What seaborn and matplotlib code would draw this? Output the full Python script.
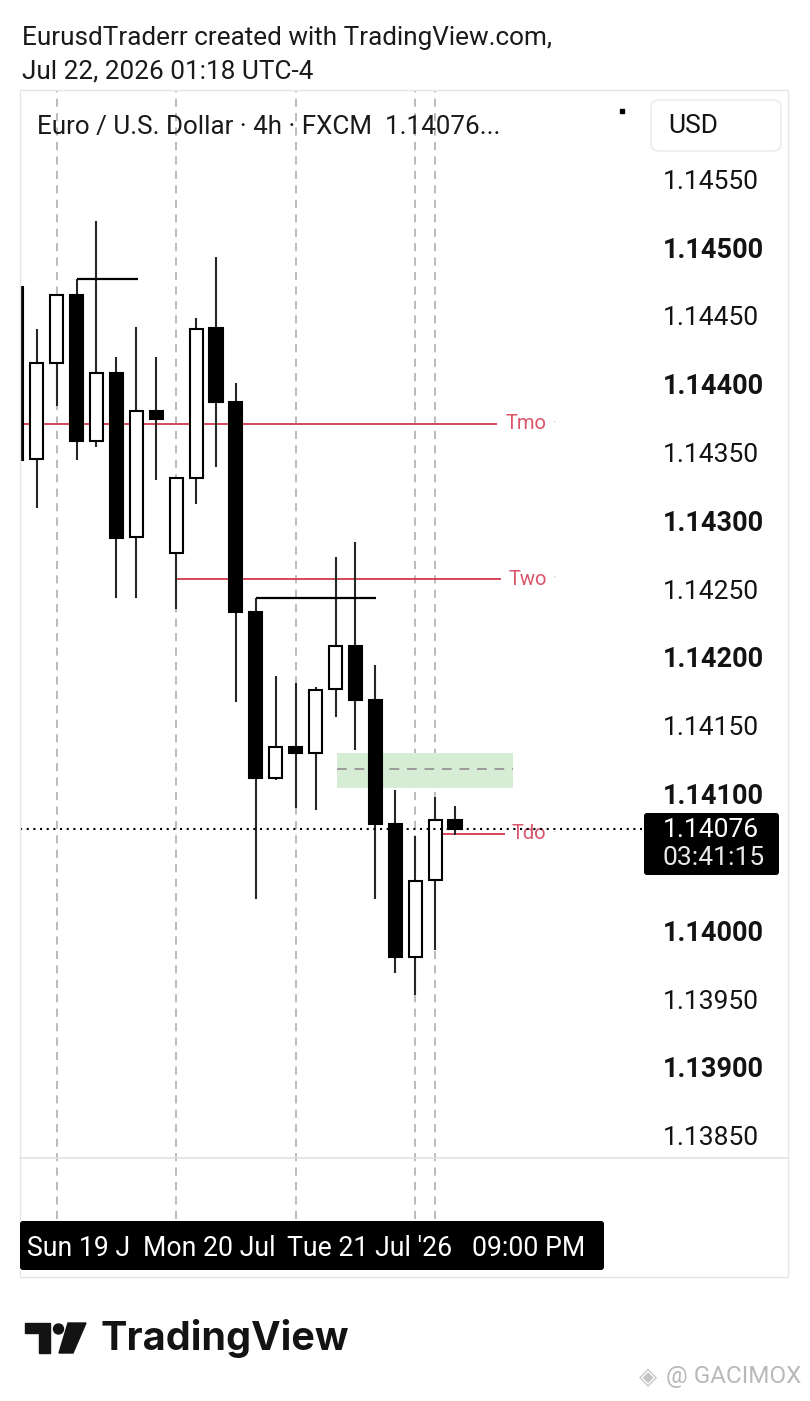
import numpy as np
import pandas as pd
import matplotlib
matplotlib.use("Agg")
import matplotlib.pyplot as plt
from matplotlib.patches import Rectangle, FancyBboxPatch, Polygon, Circle
import seaborn as sns

# EUR/USD 4h candles
opens = [1.14473, 1.14347, 1.14417, 1.14467, 1.14360, 1.14410, 1.14290, 1.14382,
         1.14278, 1.14333, 1.14443, 1.14389, 1.14235, 1.14114, 1.14136, 1.14132,
         1.14179, 1.14210, 1.14171, 1.14080, 1.13983, 1.14039, 1.14083]
highs = [1.14475, 1.14442, 1.14467, 1.14479, 1.14521, 1.14422, 1.14444, 1.14422,
         1.14333, 1.14450, 1.14495, 1.14403, 1.14245, 1.14188, 1.14183, 1.14180,
         1.14275, 1.14286, 1.14196, 1.14105, 1.14071, 1.14100, 1.14093]
lows = [1.14345, 1.14311, 1.14386, 1.14346, 1.14356, 1.14245, 1.14245, 1.14332,
        1.14237, 1.14314, 1.14341, 1.14169, 1.14025, 1.14112, 1.14092, 1.14090,
        1.14158, 1.14134, 1.14025, 1.13971, 1.13955, 1.13988, 1.14072]
closes = [1.14346, 1.14417, 1.14467, 1.14360, 1.14410, 1.14289, 1.14382, 1.14376,
          1.14333, 1.14442, 1.14389, 1.14235, 1.14114, 1.14136, 1.14132, 1.14178,
          1.14210, 1.14171, 1.14080, 1.13983, 1.14038, 1.14083, 1.14076]

day_breaks = [2, 8, 14, 20, 21]

level_names = ["Tmo", "Two", "Tdo"]
level_prices = [1.14373, 1.14259, 1.14073]

swing_idx = [3, 12]          # candles whose high is marked with a line
fvg_low, fvg_mid, fvg_high = 1.14106, 1.14120, 1.14132

last_price = 1.14076
countdown = "03:41:15"

price_ticks = [1.14550, 1.14500, 1.14450, 1.14400, 1.14350, 1.14300, 1.14250,
               1.14200, 1.14150, 1.14100, 1.14000, 1.13950, 1.13900, 1.13850]
time_labels = ["Sun 19 J", "Mon 20 Jul", "Tue 21 Jul '26", "09:00 PM"]

header = ["EurusdTraderr created with TradingView.com,", "Jul 22, 2026 01:18 UTC-4"]
title = "Euro / U.S. Dollar \u00b7 4h \u00b7 FXCM  1.14076..."

df = pd.DataFrame({"open": opens, "high": highs, "low": lows, "close": closes})
df["up"] = df["close"] >= df["open"]

sns.set_style("white")
plt.rcParams["font.family"] = ["Roboto", "DejaVu Sans"]

W, H = 810, 1401
fig = plt.figure(figsize=(W / 100, H / 100), dpi=100, facecolor="white")

# pixel <-> data helpers (candle 0 centre at x=16.8px, 19.92px per bar, 0.0005 per 68.33px)
X0, STEP = 16.8, 19.92
K = 0.0005 / 68.33


def ix(px):
    return (px - X0) / STEP


def py(y):
    return 1.145 - (y - 250) * K


ax = fig.add_axes([20 / W, 1 - 1277 / H, 768 / W, 1187 / H], zorder=1)
ax.set_xlim(ix(20), ix(788))
ax.set_ylim(py(1277), py(90))
ax.axis("off")
ax.patch.set_alpha(0)

# day separators
ax.vlines(day_breaks, py(1219), py(90), colors="#b5b5b5", linestyles=(0, (4.5, 3.5)),
          lw=1.3, zorder=0)

# candles
ax.vlines(df.index, df["low"], df["high"], colors="#262626", lw=1.5, zorder=2)
body_lo = df[["open", "close"]].min(axis=1)
body_h = (df["close"] - df["open"]).abs()
ax.bar(df.index, body_h, bottom=body_lo, width=0.66,
       color=np.where(df["up"], "white", "black"), edgecolor="black", linewidth=1.5,
       zorder=3)

# swing high markers
for i, end in zip(swing_idx, [ix(138), ix(376)]):
    ax.hlines(df["high"][i], i, end, colors="black", lw=1.6, zorder=4)

# key levels
red = "#d5485a"
for name, p, x0, x1, xt in zip(level_names, level_prices,
                                [ix(10), 8, ix(442)], [ix(497), ix(501), ix(505)],
                                [ix(506), ix(509), ix(512)]):
    ax.hlines(p, x0, x1, colors=red, lw=1.4, zorder=1)
    ax.text(xt, p, name, color="#d9556a", fontsize=14.5, va="center", ha="left")
    ax.text(ix(555), p, "\u00b7", color="#c8c8c8", fontsize=10, va="center", ha="center")

# imbalance box
ax.add_patch(Rectangle((ix(337), fvg_low), ix(513) - ix(337), fvg_high - fvg_low,
                       facecolor="#d6ecd4", edgecolor="none", zorder=0.5))
ax.hlines(fvg_mid, ix(337), ix(513), colors="#9a9a9a", linestyles=(0, (5, 4)), lw=1.4,
          zorder=2.5)

# current price dotted line
ax.hlines(last_price, ix(20), ix(642), colors="black", linestyles=(0, (1, 2.2)), lw=1.5,
          zorder=4)

# price scale labels
for t in price_ticks:
    bold = round(t * 1000, 6) == round(t * 1000)
    ax.text(ix(663), t, f"{t:.5f}", fontsize=19 if not bold else 19.5,
            fontweight="bold" if bold else "normal", color="#131313",
            va="center", ha="left", clip_on=False)

# overlay in pixel coordinates
ov = fig.add_axes([0, 0, 1, 1], zorder=2)
ov.set_xlim(0, W)
ov.set_ylim(H, 0)
ov.axis("off")
ov.patch.set_alpha(0)

ov.add_patch(Rectangle((20, 90), 768, 1187, fill=False, ec="#e6e6e6", lw=1))
ov.plot([20, 788], [1158, 1158], color="#e2e2e2", lw=1.2)

ov.text(22, 38, header[0], fontsize=18.8, color="#1a1a1a", va="center", ha="left")
ov.text(22, 71, header[1], fontsize=18.8, color="#1a1a1a", va="center", ha="left")
ov.text(37, 127, title, fontsize=18.7, color="#1a1a1a", va="center", ha="left")
ov.add_patch(Rectangle((620, 109), 4, 4, color="black"))

ov.add_patch(FancyBboxPatch((651, 100), 130, 51, boxstyle="round,pad=0,rounding_size=8",
                            fc="white", ec="#ececec", lw=1.2))
ov.text(668, 126, "USD", fontsize=19, color="#131313", va="center", ha="left")

# last price tag
ov.add_patch(FancyBboxPatch((644, 813), 135, 62, boxstyle="round,pad=0,rounding_size=3",
                            fc="black", ec="none"))
ov.text(663, 830, f"{last_price:.5f}", fontsize=19, color="white", va="center", ha="left")
ov.text(663, 858, countdown, fontsize=19, color="#e8e8e8", va="center", ha="left")

# time axis bar
ov.add_patch(FancyBboxPatch((20, 1221), 584, 49, boxstyle="round,pad=0,rounding_size=3",
                            fc="black", ec="none"))
for lab, x in zip(time_labels, [27, 143, 287, 472]):
    ov.text(x, 1248, lab, fontsize=19.2, color="white", va="center", ha="left")

# TradingView logo
ov.add_patch(Polygon([(25, 1323), (50, 1323), (50, 1353), (39, 1353), (39, 1333), (25, 1333)],
                     closed=True, color="#131313"))
ov.add_patch(Circle((58.5, 1329), 5, color="#131313"))
ov.add_patch(Polygon([(68, 1323), (86, 1323), (73, 1353), (59, 1353)], closed=True,
                     color="#131313"))
ov.text(101, 1339, "TradingView", fontsize=28.5, fontweight="bold", color="#131313",
        family=["Inter", "DejaVu Sans"], va="center", ha="left")

# watermark
ov.text(648, 1377, "\u25c8", fontsize=17, color="#c4c4c4", va="center", ha="center",
        family=["DejaVu Sans"])
ov.text(666, 1377, "@ GACIMOX", fontsize=17.5, color="#b9b9b9", va="center", ha="left")

fig.savefig("out.png", dpi=100, facecolor="white")
